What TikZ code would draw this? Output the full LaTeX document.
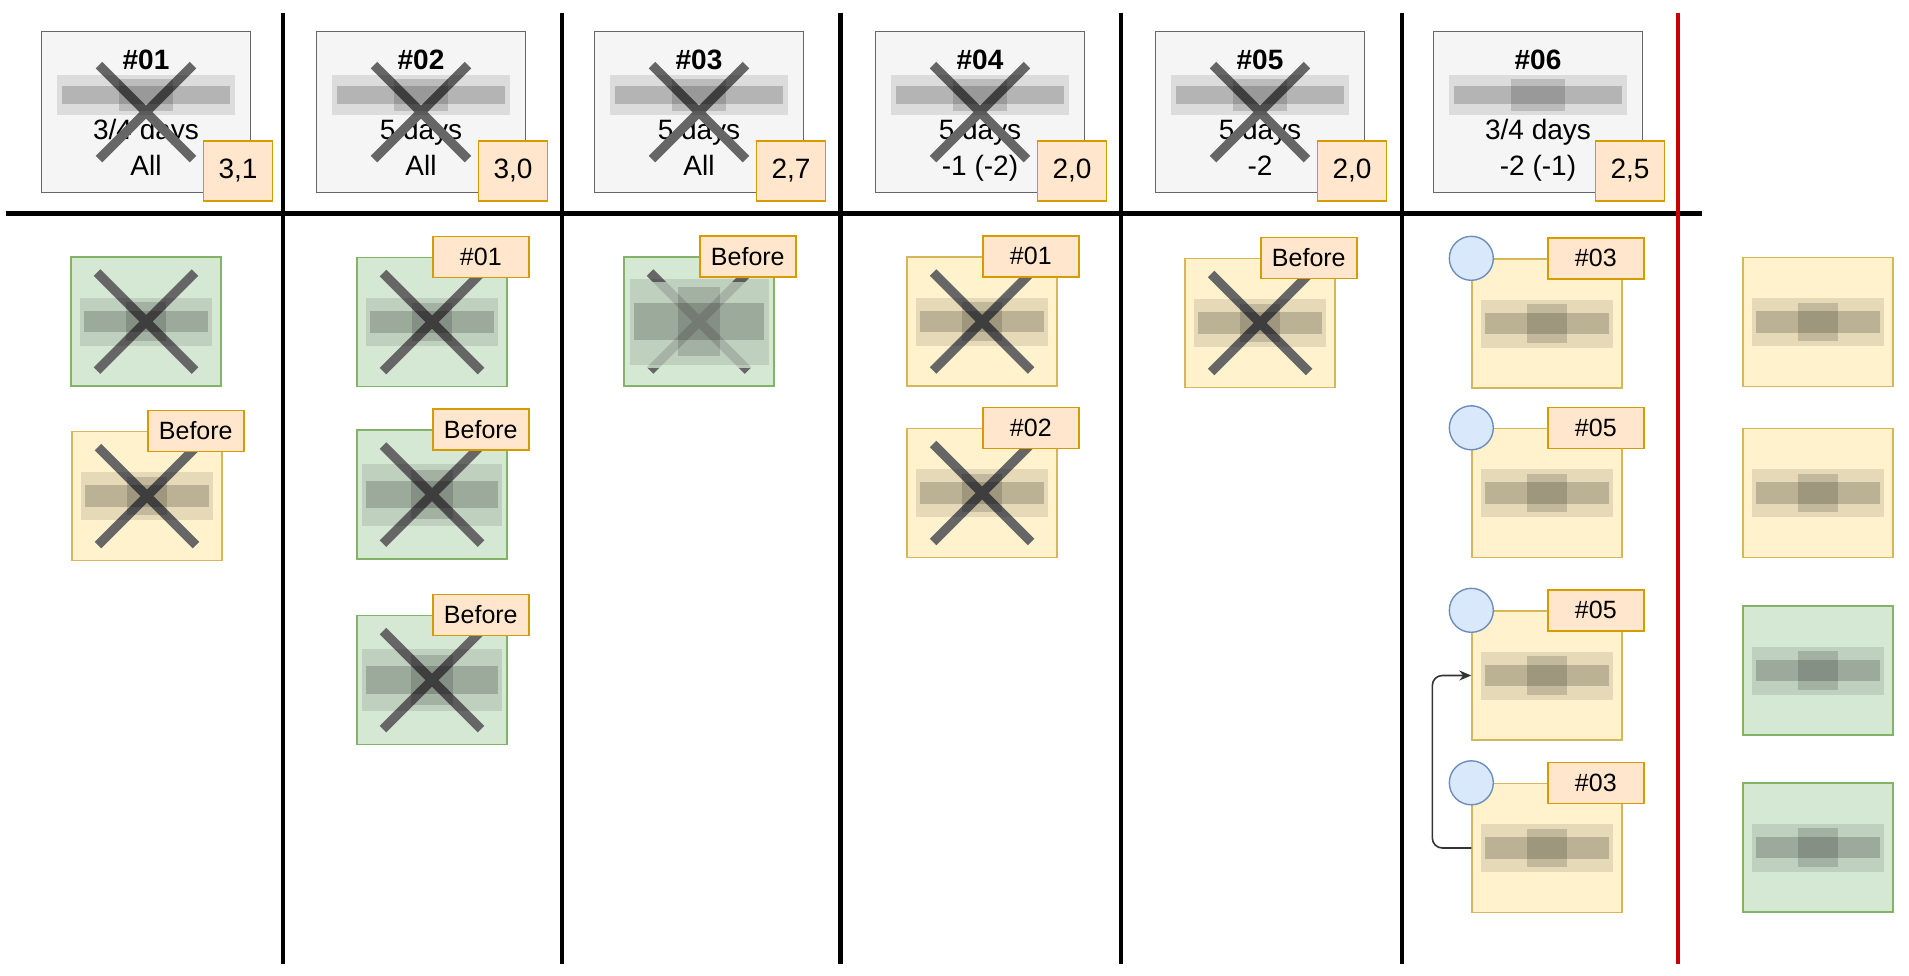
\documentclass[tikz,border=0pt]{standalone}
\usepackage{fontspec}
\setmainfont{Liberation Sans}
\usetikzlibrary{arrows.meta,positioning}

\definecolor{headfill}{HTML}{F5F5F5}
\definecolor{headline}{HTML}{666666}
\definecolor{notefill}{HTML}{FFE6CC}
\definecolor{noteline}{HTML}{D79B00}
\definecolor{greenfill}{HTML}{D5E8D4}
\definecolor{greenline}{HTML}{82B366}
\definecolor{yellowfill}{HTML}{FFF2CC}
\definecolor{yellowline}{HTML}{D6B656}
\definecolor{bluefill}{HTML}{DAE8FC}
\definecolor{blueline}{HTML}{6C8EBF}
\definecolor{limitred}{HTML}{CC0000}
\definecolor{arrowgray}{HTML}{333333}

\tikzset{
  sprint/.style={draw=headline, fill=headfill, line width=0.7pt, minimum width=104.5pt, minimum height=80.5pt, inner sep=0pt},
  headtext/.style={font=\fontsize{14}{16}\selectfont, anchor=base, inner sep=0pt},
  score/.style={draw=noteline, fill=notefill, line width=0.8pt, minimum width=34.5pt, minimum height=30pt, inner sep=0pt, font=\fontsize{14}{16}\selectfont},
  card/.style={line width=0.7pt, minimum width=75pt, minimum height=64.5pt, inner sep=0pt},
  greencard/.style={card, draw=greenline, fill=greenfill},
  yellowcard/.style={card, draw=yellowline, fill=yellowfill},
  tag/.style={draw=noteline, fill=notefill, line width=0.8pt, minimum width=48pt, minimum height=20.5pt, inner sep=0pt, font=\fontsize{12.5}{14}\selectfont},
  avatar/.style={circle, draw=blueline, fill=bluefill, line width=0.7pt, minimum size=22pt, inner sep=0pt},
  board/.style={line width=2.2pt},
  pics/cancel/.style={code={
    \draw[line width=4.6pt, draw=headline] (-#1,-#1) -- (#1,#1) (-#1,#1) -- (#1,-#1);
  }},
  pics/fuzz/.style args={#1/#2}{code={
    \fill[black, opacity=0.10] (-#1/2,-#2/2) rectangle (#1/2,#2/2);
    \fill[black, opacity=0.18] (-#1*0.47,-#2*0.22) rectangle (#1*0.47,#2*0.22);
    \fill[black, opacity=0.15] (-#1*0.15,-#2*0.4) rectangle (#1*0.15,#2*0.4);
  }}
}

\begin{document}
\begin{tikzpicture}[x=0.5pt, y=-0.5pt]
\useasboundingbox (0,0) rectangle (1909,975);

% board
\draw[board] (5.7,213.3) -- (1702,213.3);
\foreach \x in {282.7,562,840.5,1121,1401.7}
  \draw[board] (\x,12.7) -- (\x,964);
\draw[board, limitred] (1678,12.7) -- (1678,964);

% sprints
\foreach \i/\x/\len/\who/\pts in {1/146/{3/4 days}/All/{3,1}, 2/421/5 days/All/{3,0},
    3/699/5 days/All/{2,7}, 4/980/5 days/{-1 (-2)}/{2,0}, 5/1260/5 days/-2/{2,0},
    6/1538/{3/4 days}/{-2 (-1)}/{2,5}} {
  \node[sprint] (h\i) at (\x,112.2) {};
  \node[headtext, font=\bfseries\fontsize{14}{16}\selectfont] (t\i) at (\x,69.3) {\#0\i};
  \node[headtext] (d\i) at (\x,139.3) {\len};
  \node[headtext] (w\i) at (\x,175.7) {\who};
  \node[score] (s\i) at (\x+92,170.7) {\pts};
}
\foreach \i in {1,...,5}
  \pic at (h\i) {cancel=47};
\foreach \x in {146,421,699,980,1260,1538}
  \pic at (\x,95) {fuzz=178/40};

% cards
\node[greencard] (a1) at (146,321.5) {};
\node[yellowcard] (a2) at (147,496) {};
\node[greencard] (b1) at (432,322) {};
\node[greencard] (b2) at (432,494.5) {};
\node[greencard] (b3) at (432,680) {};
\node[greencard] (c1) at (699,321.5) {};
\node[yellowcard] (d1) at (982,321.5) {};
\node[yellowcard] (d2) at (982,493) {};
\node[yellowcard] (e1) at (1260,323) {};
\node[yellowcard] (f1) at (1547,323.5) {};
\node[yellowcard] (f2) at (1547,493) {};
\node[yellowcard] (f3) at (1547,675.5) {};
\node[yellowcard] (f4) at (1547,848) {};
\node[yellowcard] (g1) at (1818,322) {};
\node[yellowcard] (g2) at (1818,493) {};
\node[greencard] (g3) at (1818,670.5) {};
\node[greencard] (g4) at (1818,847.5) {};

\foreach \c in {a1,a2,b1,b2,b3,c1,d1,d2,e1}
  \pic at (\c) {cancel=49};
\foreach \c in {a1,a2,b1,d1,d2,e1,f1,f2,f3,f4,g1,g2,g3,g4}
  \pic at (\c) {fuzz=132/48};
\foreach \c in {b2,b3}
  \pic at (\c) {fuzz=140/62};
% the blur hides most of the cross here
\fill[greenfill, opacity=0.75] (630,282) rectangle (769,368);
\pic at (c1) {fuzz=139/86};

% tags
\node[tag, anchor=west] (a2t) at (a2.north) {Before};
\node[tag, anchor=west] (b1t) at (b1.north) {\#01};
\node[tag, anchor=west] (b2t) at (b2.north) {Before};
\node[tag, anchor=west] (b3t) at (b3.north) {Before};
\node[tag, anchor=west] (c1t) at (c1.north) {Before};
\node[tag, anchor=west] (d1t) at (d1.north) {\#01};
\node[tag, anchor=west] (d2t) at (d2.north) {\#02};
\node[tag, anchor=west] (e1t) at (e1.north) {Before};
\node[tag, anchor=west] (f1t) at (f1.north) {\#03};
\node[tag, anchor=west] (f2t) at (f2.north) {\#05};
\node[tag, anchor=west] (f3t) at (f3.north) {\#05};
\node[tag, anchor=west] (f4t) at (f4.north) {\#03};

% owners
\foreach \c in {f1,f2,f3,f4}
  \node[avatar] (\c o) at (\c.north west) {};

\draw[-{Stealth[length=6pt,width=5pt]}, draw=arrowgray, line width=0.8pt, rounded corners=5pt]
  (f4.west) -- ++(-39,0) |- (f3.west);
\end{tikzpicture}
\end{document}
